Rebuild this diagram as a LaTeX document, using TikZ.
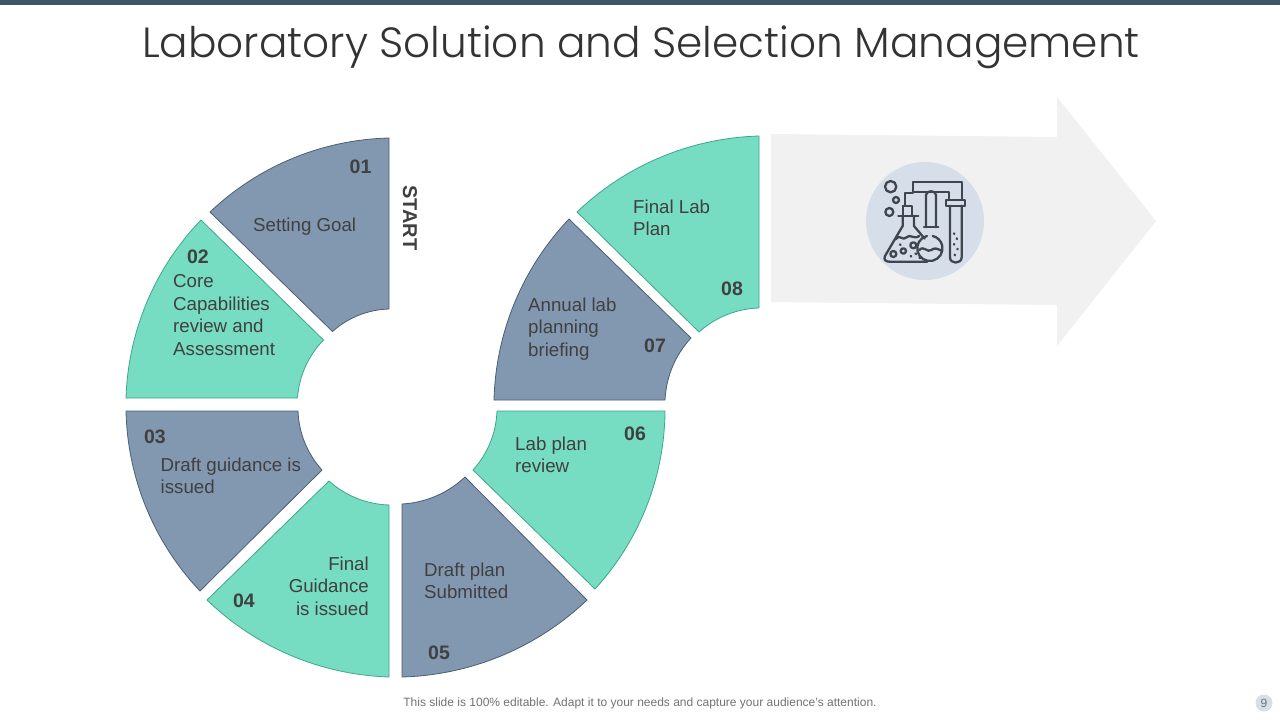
\documentclass[tikz,border=0pt]{standalone}
\usepackage{fontspec}
\setmainfont{Liberation Sans}
\newfontfamily\titlefont{Poppins Light}
\definecolor{slateseg}{HTML}{8298B0}
\definecolor{slateline}{HTML}{4A5F75}
\definecolor{tealseg}{HTML}{76DCC2}
\definecolor{tealline}{HTML}{3FA58C}
\definecolor{inkc}{HTML}{404040}
\definecolor{iconc}{HTML}{3F464E}
\definecolor{discc}{HTML}{D6DFE9}
\definecolor{arrowc}{HTML}{F1F1F1}
\definecolor{barc}{HTML}{3F5468}
\tikzset{
 slatebox/.style={fill=slateseg,draw=slateline,line width=.8pt,line join=round},
 tealbox/.style={fill=tealseg,draw=tealline,line width=.8pt,line join=round},
 seglabel/.style={font=\fontsize{18.7}{22.5}\selectfont,text=inkc,align=left,inner sep=0pt},
 seglabelr/.style={font=\fontsize{18.7}{22.5}\selectfont,text=inkc,align=right,inner sep=0pt},
 segnum/.style={font=\fontsize{19.5}{22}\selectfont\bfseries,text=inkc,inner sep=0pt},
 iconline/.style={draw=iconc,line width=2.3pt,line join=round,line cap=round},
}
% counterclockwise segment: outer arc A-B, line, inner arc C-D
\newcommand{\segccw}[5]{\draw[#1] #2 to[bend right=21,looseness=.885] #3 -- #4 to[bend left=20,looseness=.885] #5 -- cycle;}
\newcommand{\segcw}[5]{\draw[#1] #2 to[bend left=21,looseness=.885] #3 -- #4 to[bend right=20,looseness=.885] #5 -- cycle;}
\begin{document}
\begin{tikzpicture}[x=1pt,y=-1pt]
\useasboundingbox (0,0) rectangle (1280,720);
\fill[white] (0,0) rectangle (1280,720);
\fill[barc] (0,0) rectangle (1280,5);
\node[inner sep=0pt,text=inkc!80!black,font=\titlefont\fontsize{42.2}{50}\selectfont] (title) at (641,47.5) {Laboratory Solution and Selection Management};
% segments
\segccw{slatebox}{(389,138)}{(210,212)}{(332.5,331.5)}{(389,309)}
\segccw{tealbox}{(201,220)}{(126,398)}{(297.5,398)}{(323.5,340)}
\segccw{slatebox}{(126,411)}{(200,591)}{(322,470)}{(298,411)}
\segccw{tealbox}{(207,600)}{(389,677)}{(389,505)}{(329,481)}
\segccw{slatebox}{(402,677)}{(587,600)}{(465,477)}{(402,504)}
\segccw{tealbox}{(595,589)}{(665,411)}{(497,411)}{(473,470)}
\segcw{slatebox}{(494,400)}{(569,219)}{(691,338)}{(665,400)}
\segcw{tealbox}{(577,212)}{(759,136)}{(759,308)}{(699,332)}
% labels
\node[segnum] (n1) at (360.5,166.5) {01};
\node[segnum] (n2) at (198,256.5) {02};
\node[segnum] (n3) at (155,436.5) {03};
\node[segnum] (n4) at (244,600.5) {04};
\node[segnum] (n5) at (439,652.5) {05};
\node[segnum] (n6) at (635,433.5) {06};
\node[segnum] (n7) at (655,345.5) {07};
\node[segnum] (n8) at (732,288.5) {08};
\node[seglabel,anchor=west] (t1) at (253,227) {Setting Goal};
\node[seglabel,anchor=west] (t2) at (173,315) {Core\\Capabilities\\review and\\Assessment};
\node[seglabel,anchor=west] (t3) at (160.5,476) {Draft guidance is\\issued};
\node[seglabelr,anchor=east] (t4) at (369,586) {Final\\Guidance\\is issued};
\node[seglabel,anchor=west] (t5) at (424,581) {Draft plan\\Submitted};
\node[seglabel,anchor=west] (t6) at (515,455) {Lab plan\\review};
\node[seglabel,anchor=west] (t7) at (528,329) {Annual lab\\planning\\briefing};
\node[seglabel,anchor=west] (t8) at (633,218) {Final Lab\\Plan};
\node[rotate=-90,inner sep=0pt,text=inkc,font=\fontsize{20}{22}\selectfont\bfseries] (start) at (410,218) {START};
% arrow
\fill[arrowc] (771,134) -- (1057,137) -- (1057,97) -- (1156,221) -- (1057,346) -- (1057,305) -- (771,302) -- cycle;
\fill[discc] (925,221) circle (59);
% icon (coordinates of a 3x view)
\begin{scope}[shift={(850,150)},x=.3333pt,y=-.3333pt]
\draw[iconline] (122,110) circle (17) (138,150) circle (9) (118,186) circle (12);
% conical flask
\draw[iconline] (158,168) -- (185,168) -- (185,197) (158,168) -- (158,197);
\draw[iconline] (145,197) -- (205,197);
\draw[iconline] (158,197) -- (158,228) -- (105,318) .. controls (100,330) and (108,335) .. (118,335) -- (232,335);
\draw[iconline] (192,197) -- (192,228) -- (224,266);
\draw[iconline] (137,268) .. controls (150,250) and (158,275) .. (170,262) .. controls (180,250) and (190,270) .. (208,258);
\draw[iconline] (130,312) circle (9) (160,303) circle (8) (190,286) circle (9);
\draw[iconline] (150,283) -- (152,285) (182,318) -- (184,320) (196,310) -- (198,312) (208,322) -- (210,324);
% tubes
\draw[iconline] (165,165) -- (165,130) -- (188,130) -- (188,95) -- (335,95) -- (335,150);
\draw[iconline] (188,126) -- (297,126) -- (297,150);
% round flask
\draw[iconline] (228,232) -- (228,135) .. controls (228,120) and (258,120) .. (258,135) -- (258,232);
\draw[iconline] (222,232) -- (265,232);
\draw[iconline] (231,258) arc[start angle=-103,end angle=-437,radius=38];
\draw[iconline] (208,300) .. controls (222,285) and (232,310) .. (244,300) .. controls (254,292) and (262,296) .. (274,302);
% test tube
\draw[iconline] (287,150) rectangle (345,167);
\draw[iconline] (300,167) -- (300,322) .. controls (300,343) and (335,343) .. (335,322) -- (335,167);
\draw[iconline] (312,250) -- (313,252) (320,265) -- (321,267) (312,282) -- (313,284) (322,296) -- (323,298) (314,314) -- (315,316);
\end{scope}
% footer
\node[inner sep=0pt,text=black!55,font=\fontsize{12}{14}\selectfont] (foot) at (640,703.5) {This slide is 100\% editable. Adapt it to your needs and capture your audience's attention.};
\node[circle,fill=discc,minimum size=17pt,inner sep=0pt,text=black!55,font=\fontsize{12}{14}\selectfont] (page) at (1264,703) {9};
\end{tikzpicture}
\end{document}
